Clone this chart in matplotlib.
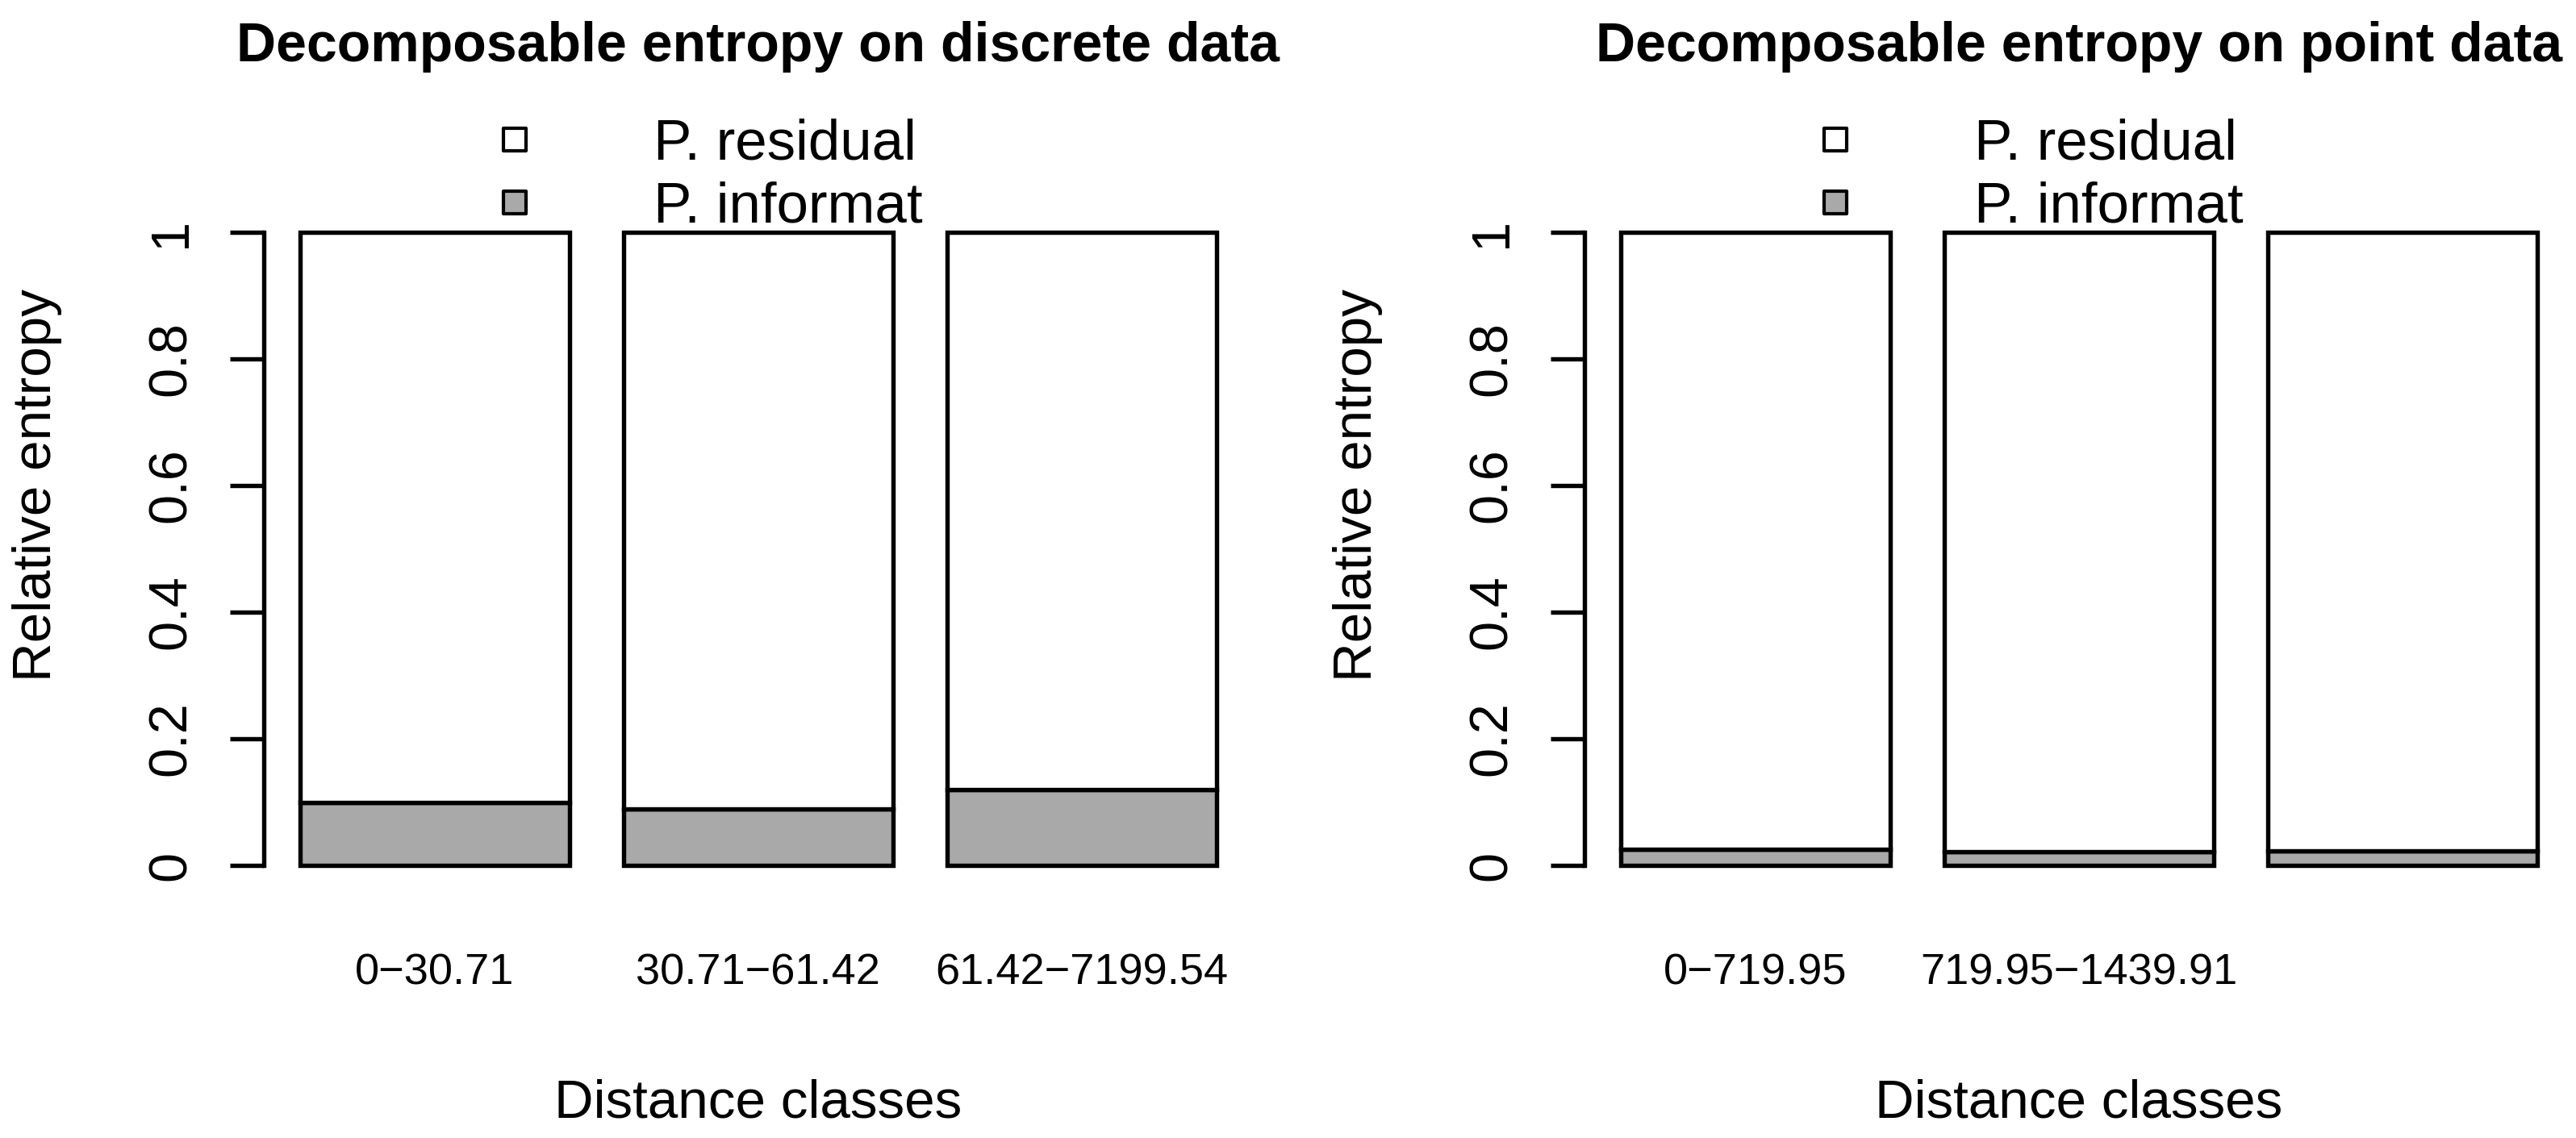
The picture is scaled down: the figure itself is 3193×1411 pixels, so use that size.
import matplotlib.pyplot as plt

plt.rcParams['font.family'] = ['Liberation Sans', 'DejaVu Sans']

# data
titles = ["Decomposable entropy on discrete data", "Decomposable entropy on point data"]
classes_discrete = ["0−30.71", "30.71−61.42", "61.42−7199.54"]
informat_discrete = [0.099, 0.089, 0.120]
classes_point = ["0−719.95", "719.95−1439.91", ""]   # third label is not drawn in the original
informat_point = [0.026, 0.022, 0.023]
yticks = [0, 0.2, 0.4, 0.6, 0.8, 1]
ytick_labels = ["0", "0.2", "0.4", "0.6", "0.8", "1"]
legend_labels = ["P. residual", "P. informat"]
legend_colors = ["white", "darkgray"]

bar_pos = [0.7, 1.9, 3.1]
lw = 3.9

fig = plt.figure(figsize=(31.93, 14.11), dpi=100)
ax1 = fig.add_axes([0.10229, 0.2173, 0.38409, 0.7177])
ax2 = fig.add_axes([0.61497, 0.2173, 0.38409, 0.7177])


def panel(ax, title, labels, informat):
    residual = [1 - v for v in informat]
    ax.bar(bar_pos, informat, width=1, color='darkgray', edgecolor='black', linewidth=lw)
    ax.bar(bar_pos, residual, bottom=informat, width=1, color='white',
           edgecolor='black', linewidth=lw)
    ax.set_xlim(0.064, 3.736)
    ax.set_ylim(-0.04, 1.25)
    for s in ['top', 'right', 'bottom']:
        ax.spines[s].set_visible(False)
    ax.spines['left'].set_bounds(0, 1)
    ax.spines['left'].set_linewidth(lw)
    ax.set_yticks(yticks, labels=ytick_labels, rotation=90, va='center', fontsize=48)
    ax.tick_params(axis='y', length=30.2, width=lw, pad=29.5)
    ax.set_xticks(bar_pos, labels=labels, va='baseline', fontsize=39)
    ax.tick_params(axis='x', length=0, pad=83.7)

    ax.text(0.5, -0.2771, "Distance classes", transform=ax.transAxes,
            ha='center', va='baseline', fontsize=48.5)
    ax.text(-0.2288, 0.4961, "Relative entropy", transform=ax.transAxes,
            rotation=90, ha='center', va='center', fontsize=48.5)
    ax.text(0.5, 1.0155, title, transform=ax.transAxes,
            ha='center', va='baseline', fontsize=49, fontweight='bold')

    # legend drawn like R's barplot legend
    ax.scatter([0.997, 0.997], [1.1465, 1.0471], s=20**2, marker='s',
               c=legend_colors, edgecolors='black', linewidths=3, clip_on=False, zorder=5)
    for yb, lab in zip([1.1150, 1.0157], legend_labels):
        ax.text(1.512, yb, lab, ha='left', va='baseline', fontsize=51)


panel(ax1, titles[0], classes_discrete, informat_discrete)
panel(ax2, titles[1], classes_point, informat_point)

plt.savefig("out.png", dpi=100)
